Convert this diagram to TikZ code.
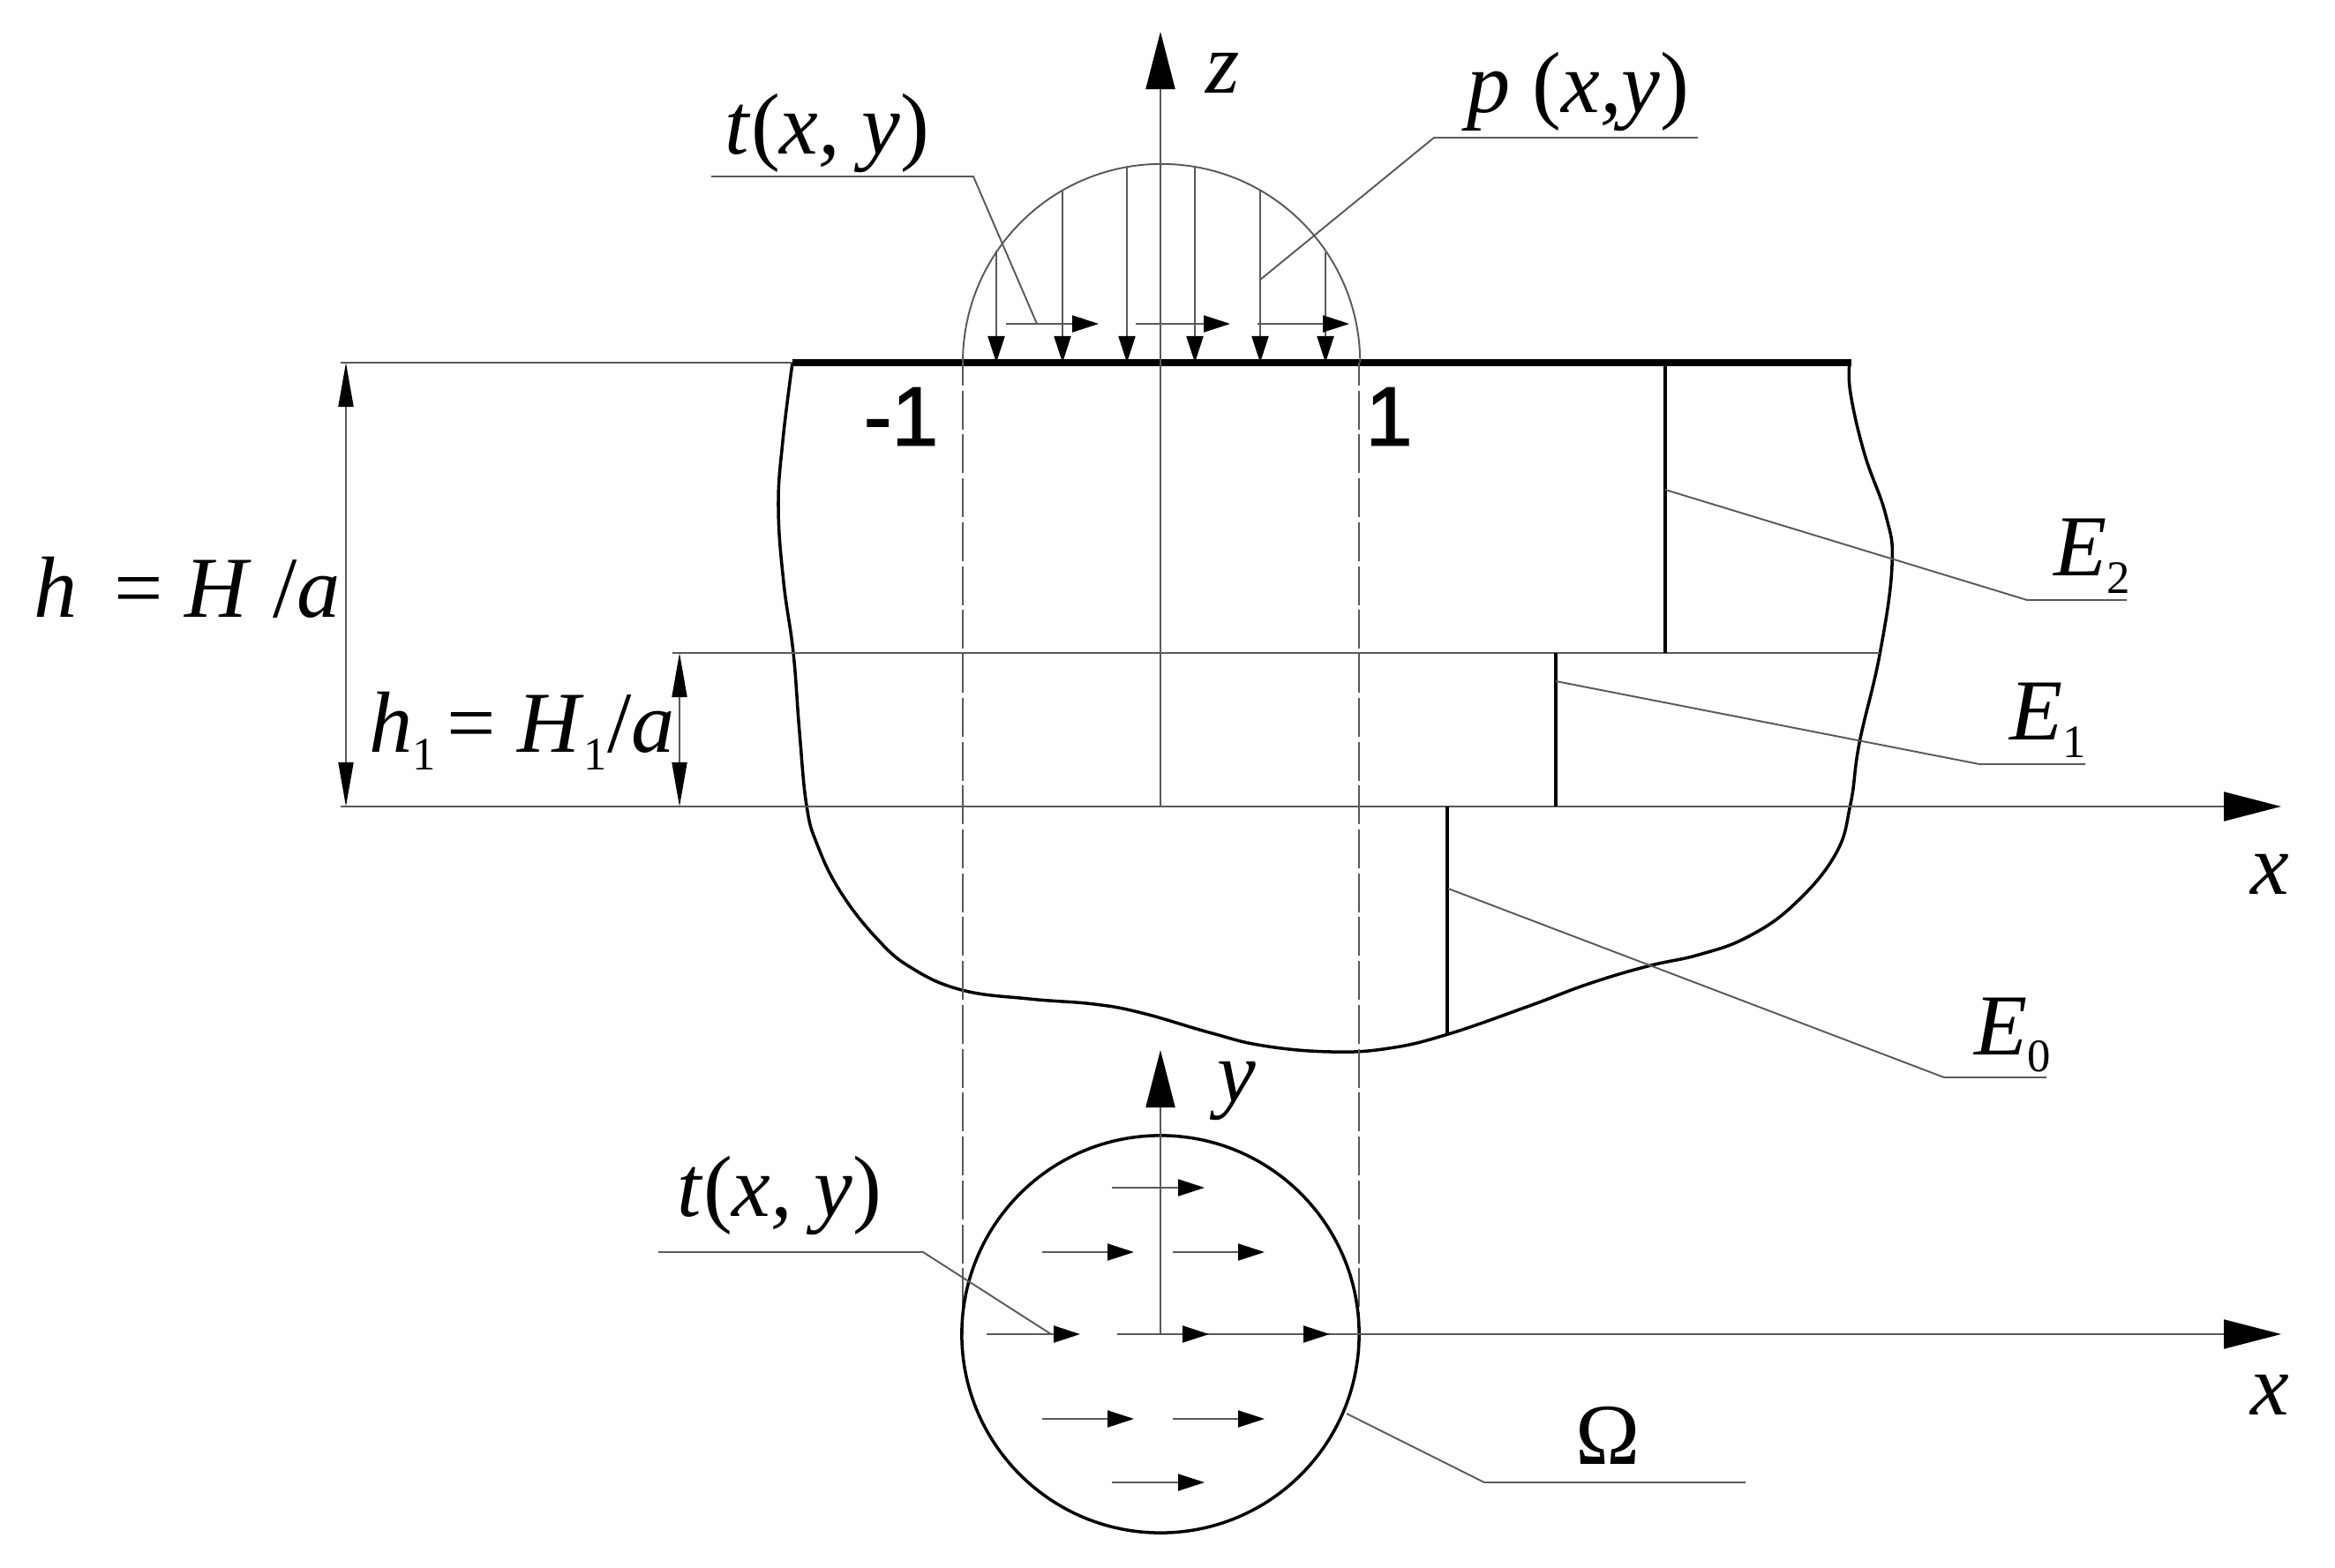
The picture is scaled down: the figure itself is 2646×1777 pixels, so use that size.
\documentclass[tikz,border=0pt]{standalone}
\usepackage{fontspec}
\setmainfont{Liberation Serif}
\newfontfamily\digitfont[FakeBold=1.6]{Liberation Sans}
\usetikzlibrary{arrows.meta}
\definecolor{thinline}{gray}{0.35}
\newcommand{\lowidx}[1]{\raisebox{-0.2em}{\fontsize{15}{15}\selectfont #1}}
\tikzset{
  thinln/.style={draw=thinline, line width=0.55pt},
  outline/.style={draw=black, line width=1pt},
  layerln/.style={draw=black, line width=0.9pt},
  axisarrow/.style={thinln, -{Triangle[length=6.5mm,width=3.3mm,black]}},
  dimarrow/.style={thinln, {Triangle[length=5mm,width=1.7mm,black]}-{Triangle[length=5mm,width=1.7mm,black]}},
  loadarrow/.style={thinln, -{Triangle[length=3mm,width=1.9mm,black]}},
  projline/.style={thinln, dash pattern=on 4.4mm off 0.57mm, dash phase=1.8mm},
  lbl/.style={inner sep=0pt, anchor=base west, font=\fontsize{28}{32}\selectfont},
  digit/.style={inner sep=0pt, font=\digitfont\fontsize{27}{32}\selectfont},
}
\begin{document}
\begin{tikzpicture}[x=0.01cm, y=-0.01cm]
  \path[use as bounding box] (0,0) rectangle (2646,1777);

  \coordinate (topL) at (898,411);
  \coordinate (topR) at (2098,411);
  \coordinate (origin) at (1315,914);
  \coordinate (center) at (1315,1512);

  % body outline
  \draw[outline] plot[smooth, tension=0.7] coordinates {(898,411) (887,500) (882,575) (888,660) (899,740)
    (906,830) (914,913) (926,957) (952,1010) (993,1063) (1033,1097) (1090,1122) (1166,1132) (1240,1138)
    (1294,1148) (1370,1170) (1431,1185) (1508,1192) (1574,1188) (1641,1172) (1733,1140) (1800,1115)
    (1867,1095) (1925,1082) (1980,1062) (2033,1025) (2080,968) (2097,911) (2107,842) (2130,742)
    (2144,641) (2137,584) (2113,515) (2097,446) (2096,411)};
  \draw[line width=2.5pt] (topL) -- (topR);

  % axes and dimension lines
  \draw[axisarrow] (origin) -- (1315,36);
  \draw[axisarrow] (386,914) -- (origin) -- (2585,914);
  \draw[thinln] (386,411) -- (topL);
  \draw[thinln] (762,740) -- (2130,740);
  \draw[dimarrow] (392,411) -- (392,914);
  \draw[dimarrow] (770,740) -- (770,914);

  % layer borders
  \draw[layerln] (1887,411) -- (1887,740);
  \draw[layerln] (1763,740) -- (1763,914);
  \draw[layerln] (1640,914) -- (1640,1172);

  % pressure and shear under the stamp
  \draw[thinln] (1091,411) arc[start angle=180, end angle=0, radius=2.25cm];
  \foreach \ax in {1129,1204,1277,1354,1428,1502} {
    \pgfmathsetmacro{\ay}{411-100*sqrt(2.25^2-((\ax-1315)/100)^2)}
    \draw[loadarrow] (\ax,\ay) -- (\ax,411);
  }
  \foreach \sx/\ex in {1140/1245,1287/1394,1425/1529}
    \draw[loadarrow] (\sx,367) -- (\ex,367);
  \draw[projline] (1091,411) -- (1091,1512);
  \draw[projline] (1540,411) -- (1540,1512);

  % contact area
  \node[circle, outline, inner sep=0pt, minimum size=4.5cm] (area) at (center) {};
  \draw[axisarrow] (center) -- (1315,1190);
  \draw[axisarrow] (center) -- (2585,1512);
  \foreach \sx/\ex/\ry in {1260/1365/1346,1181/1285/1419,1329/1433/1419,1118/1224/1512,1266/1370/1512,
    1370/1507/1512,1181/1285/1608,1329/1433/1608,1260/1365/1680}
    \draw[loadarrow] (\sx,\ry) -- (\ex,\ry);

  % labels
  \node[lbl] (zlab) at (1366,106) {\textit{z}};
  \node[lbl] (ylab) at (1379,1248) {\textit{y}};
  \node[lbl] (xlabA) at (2550,1014) {\textit{x}};
  \node[lbl] (xlabB) at (2550,1603) {\textit{x}};
  \node[lbl] (tlabA) at (821,175) {\textit{t}(\textit{x, y})};
  \node[lbl] (plab) at (1662,128) {\textit{p} (\textit{x,y})};
  \node[lbl] (tlabB) at (767,1378) {\textit{t}(\textit{x, y})};
  \node[lbl] (hlab) at (38,700) {\textit{h}\hspace{.42em}= \textit{H} /\textit{a}};
  \node[lbl] (honelab) at (418,853) {\textit{h}\lowidx{1}\hspace{.12em}= \textit{H}\lowidx{1}/\textit{a}};
  \node[lbl] (etwolab) at (2327,653) {\textit{E}\lowidx{2}};
  \node[lbl] (eonelab) at (2277,839) {\textit{E}\lowidx{1}};
  \node[lbl] (ezerolab) at (2237,1195) {\textit{E}\lowidx{0}};
  \node[lbl] (omegalab) at (1785,1659) {Ω};
  \node[digit] (mone) at (1021,472) {-1};
  \node[digit] (pone) at (1574,472) {1};

  % leaders
  \coordinate (tA1) at (806,200);
  \coordinate (tA2) at (1103,200);
  \coordinate (tA3) at (1175,367);
  \draw[thinln] (tA1) -- (tA2) -- (tA3);
  \coordinate (p1) at (1924,156);
  \coordinate (p2) at (1625,156);
  \coordinate (p3) at (1428,317);
  \draw[thinln] (p1) -- (p2) -- (p3);
  \coordinate (tB1) at (746,1419);
  \coordinate (tB2) at (1046,1419);
  \coordinate (tB3) at (1191,1512);
  \draw[thinln] (tB1) -- (tB2) -- (tB3);
  \coordinate (om1) at (1526,1602);
  \coordinate (om2) at (1682,1680);
  \coordinate (om3) at (1978,1680);
  \draw[thinln] (om1) -- (om2) -- (om3);
  \coordinate (e21) at (1887,555);
  \coordinate (e22) at (2297,680);
  \coordinate (e23) at (2410,680);
  \draw[thinln] (e21) -- (e22) -- (e23);
  \coordinate (e11) at (1763,772);
  \coordinate (e12) at (2243,866);
  \coordinate (e13) at (2363,866);
  \draw[thinln] (e11) -- (e12) -- (e13);
  \coordinate (e01) at (1641,1007);
  \coordinate (e02) at (2203,1221);
  \coordinate (e03) at (2319,1221);
  \draw[thinln] (e01) -- (e02) -- (e03);
\end{tikzpicture}
\end{document}
